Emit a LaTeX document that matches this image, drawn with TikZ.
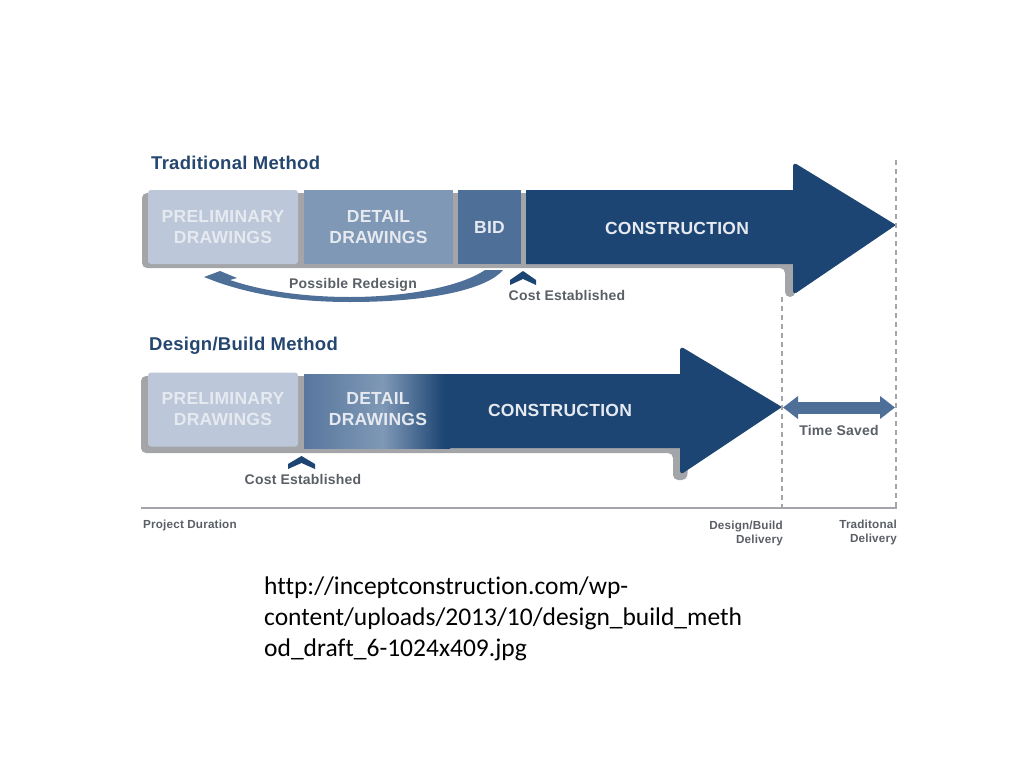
\documentclass[tikz,border=0pt]{standalone}
\usepackage{fontspec}
\setmainfont{Liberation Sans}[LetterSpace=1.5]
\newfontfamily\urlfont{Carlito}[Ligatures=NoCommon]
\usetikzlibrary{arrows.meta}
\definecolor{navy}{HTML}{1C4573}
\definecolor{midblue}{HTML}{4E6F98}
\definecolor{steel}{HTML}{7F98B6}
\definecolor{pale}{HTML}{BCC8D9}
\definecolor{backing}{HTML}{A3A5A8}
\definecolor{labelgrey}{HTML}{5A5F66}
\definecolor{headblue}{HTML}{24466F}
\definecolor{boxtext}{HTML}{E6EAF0}
\pgfdeclarehorizontalshading{detailfade}{100bp}{color(0bp)=(midblue!80!steel); color(25bp)=(midblue!80!steel); color(52bp)=(steel); color(73bp)=(navy); color(100bp)=(navy)}
\begin{document}
\begin{tikzpicture}[x=1pt,y=-1pt,
    stagebox/.style ={rectangle, inner sep=0pt, outer sep=0pt, minimum height=74pt, align=center,
        text=boxtext, font=\fontsize{17.5}{21}\selectfont\bfseries},
    heading/.style ={anchor=west, inner sep=0pt, text=headblue, font=\fontsize{18.5}{20}\selectfont\bfseries},
    note/.style ={inner sep=0pt, text=labelgrey, font=\fontsize{14}{15}\selectfont\bfseries},
    small/.style ={inner sep=0pt, align=right, text=labelgrey, font=\fontsize{11.7}{14}\selectfont\bfseries},
    caret/.style ={fill=navy, line join=round},
    limit/.style ={draw=backing, line width=1.3pt, dash pattern=on 5pt off 4pt}]
   \useasboundingbox (0,0) rectangle (1024,768);
   % grey backing
   \fill[backing, rounded corners=5pt] (142,193) -- (800,193) -- (800,240) -- (795,297) -- (785,297) -- (785,268) -- (142,268) -- cycle;
   \fill[backing, rounded corners=5pt] (141,376) -- (690,376) -- (690,440) -- (687,480) -- (673,480) -- (673,453) -- (141,453) -- cycle;
   % traditional row
   \node[heading] (tradtitle) at (151,162.5) {Traditional Method};
   \node[stagebox, fill=pale, minimum width=150pt, rounded corners=3pt] (tradprelim) at (223,227) {PRELIMINARY\\DRAWINGS};
   \node[stagebox, fill=steel, minimum width=149pt] (traddetail) at (378.5,227) {DETAIL\\DRAWINGS};
   \node[stagebox, fill=midblue, minimum width=63pt] (tradbid) at (489.5,227) {BID};
   \fill[navy] (526,190) -- (793,190) [rounded corners=4pt] -- (793,162) [sharp corners] -- (896,225) [rounded corners=4pt] -- (793,295) [sharp corners] -- (793,264) -- (526,264) -- cycle;
   \node[stagebox, minimum width=150pt] (tradbuild) at (677,228) {CONSTRUCTION};
   % redesign loop
   \fill[midblue] (503,270) .. controls (488,288) and (435,302) .. (350,302) .. controls (305,302) and (260,297) .. (217,282)
       -- (204,277) -- (220,271) -- (237,278) -- (230,280) .. controls (262,291) and (305,297) .. (350,297) .. controls (405,297) and (460,287) .. (485,270) -- cycle;
   \node[note] (redesign) at (353,285) {Possible Redesign};
   \fill[caret] (523,271) -- (536,280) -- (536,285) -- (523,279) -- (510,285) -- (510,280) -- cycle;
   \node[note] (tradcost) at (567,295) {Cost Established};
   % design/build row
   \node[heading] (dbtitle) at (149,345.5) {Design/Build Method};
   \node[stagebox, fill=pale, minimum width=150pt, rounded corners=3pt] (dbprelim) at (223,409.5) {PRELIMINARY\\DRAWINGS};
   \fill[navy] (440,374) -- (680,374) [rounded corners=4pt] -- (680,346) [sharp corners] -- (782,407) [rounded corners=4pt] -- (680,475) [sharp corners] -- (680,448) -- (440,448) -- cycle;
   \node[stagebox, minimum width=146pt, shading=detailfade] (dbdetail) at (377,411) {};
   \node[stagebox] (dbdetailtext) at (378,409) {DETAIL\\DRAWINGS};
   \node[stagebox, minimum width=150pt] (dbbuild) at (560,410) {CONSTRUCTION};
   \fill[caret] (301.5,456) -- (315,464) -- (315,469) -- (301.5,463) -- (288,469) -- (288,464) -- cycle;
   \node[note] (dbcost) at (303,479) {Cost Established};
   % time line
   \coordinate (railstart) at (141,508);
   \coordinate (railmid) at (782,508);
   \coordinate (railend) at (897,508);
   \coordinate (designtop) at (782,297);
   \coordinate (tradtop) at (896,160);
   \coordinate (tradfoot) at (896,508);
   \coordinate (savedleft) at (783,407.5);
   \coordinate (savedright) at (895,407.5);
   \draw[backing, line width=2pt] (railstart) -- (railend);
   \draw[limit] (designtop) -- (railmid);
   \draw[limit] (tradtop) -- (tradfoot);
   \draw[midblue, line width=12pt, {Triangle[length=15pt,width=22pt]}-{Triangle[length=15pt,width=22pt]}] (savedleft) -- (savedright);
   \node[note] (saved) at (839,430) {Time Saved};
   \node[small, anchor=west] (duration) at (143,525.5) {Project Duration};
   \node[small, anchor=north east] (dbdelivery) at (783,520.5) {Design/Build\\Delivery};
   \node[small, anchor=north east] (traddelivery) at (897,519.5) {Traditonal\\Delivery};
   % source
   \node[anchor=north west, inner sep=0pt, align=left, font=\urlfont\fontsize{25.5}{31}\selectfont] (source) at (264,577)
       {http://inceptconstruction.com/wp-\\content/uploads/2013/10/design\_build\_meth\\od\_draft\_6-1024x409.jpg};
 \end{tikzpicture}
\end{document}
